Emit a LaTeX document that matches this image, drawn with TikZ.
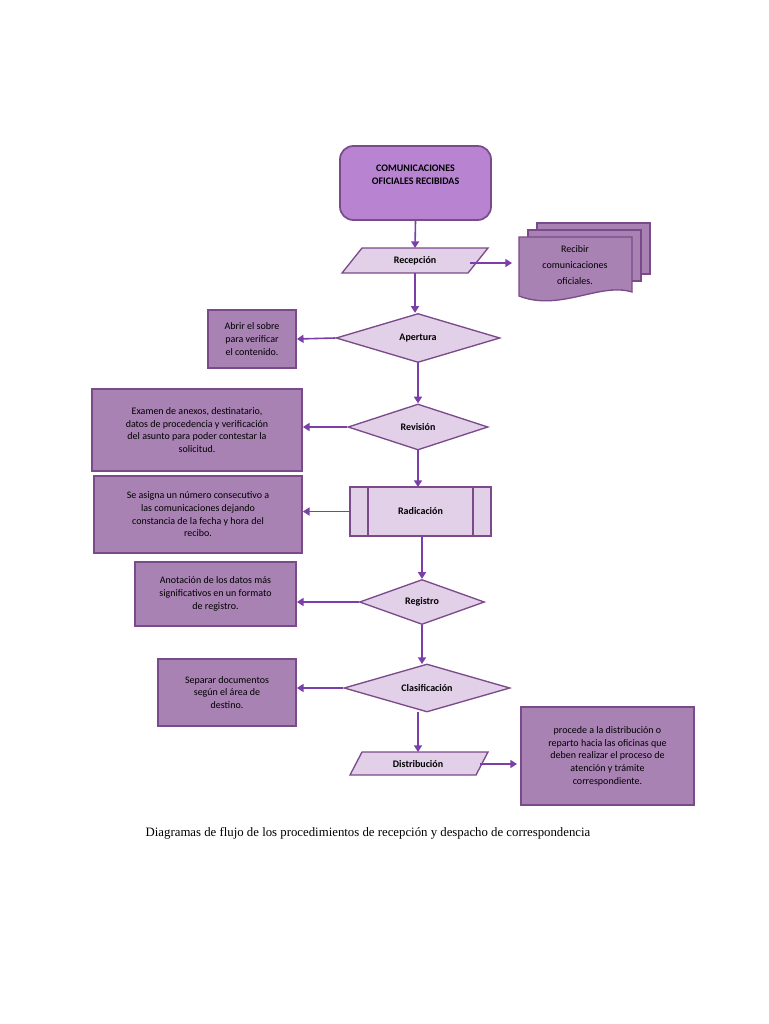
\documentclass[tikz,border=0pt]{standalone}
\usepackage{fontspec}
\setmainfont{Carlito}
\newfontfamily\capfont{Liberation Serif}
\usetikzlibrary{shapes.geometric,arrows.meta}
\definecolor{dark}{HTML}{7B4A8A}
\definecolor{arr}{HTML}{7A3FA8}
\definecolor{topf}{HTML}{B884D2}
\definecolor{sidef}{HTML}{A982B4}
\definecolor{lightf}{HTML}{E2CFE8}
\begin{document}
\begin{tikzpicture}[x=0.75pt,y=-0.75pt,
  side/.style={draw=dark,line width=1.3pt,fill=sidef,align=center,font=\fontsize{7.5}{9.5}\selectfont,inner sep=2pt},
  dia/.style={diamond,draw=dark,line width=1pt,fill=lightf,font=\bfseries\fontsize{7.5}{9}\selectfont,inner sep=0pt,aspect=3},
  lbl/.style={font=\bfseries\fontsize{7.5}{9}\selectfont,inner sep=0pt},
  ar/.style={draw=arr,line width=1.2pt,-{Triangle[length=5pt,width=6pt]}}]
\useasboundingbox (0,0) rectangle (768,1024);
% top
\node[draw=dark,line width=1.3pt,fill=topf,rounded corners=10pt,minimum width=151*0.75pt,minimum height=74*0.75pt,align=center,font=\bfseries\fontsize{7.5}{10}\selectfont,text depth=12pt] (top) at (415.5,183) {COMUNICACIONES\\OFICIALES RECIBIDAS};
% Recepcion parallelogram
\draw[draw=dark,line width=1pt,fill=lightf] (362,248) -- (488,248) -- (468,273) -- (342,273) -- cycle;
\node[lbl,minimum width=100*0.75pt,minimum height=25*0.75pt] (rec) at (415,261) {Recepción};
% document stack
\foreach \dx/\dy in {18/-14,9/-7}{
  \draw[draw=dark,line width=1pt,fill=sidef] (519+\dx,237+\dy) -- (632+\dx,237+\dy) -- (632+\dx,288+\dy) -- (519+\dx,288+\dy) -- cycle;}
\draw[draw=dark,line width=1pt,fill=sidef] (519,237) -- (632,237) -- (632,292) .. controls (600,282) and (560,312) .. (519,296) -- cycle;
\node[align=center,font=\fontsize{7.5}{12}\selectfont,minimum width=110*0.75pt] (doc) at (575,265) {Recibir\\comunicaciones\\oficiales.};
% Apertura
\node[dia,minimum width=164*0.75pt,minimum height=49*0.75pt] (ape) at (418,338) {Apertura};
\node[side,minimum width=88*0.75pt,minimum height=58*0.75pt] (abr) at (252,339) {Abrir el sobre\\para verificar\\el contenido.};
% Revision
\node[dia,minimum width=140*0.75pt,minimum height=46*0.75pt] (rev) at (418,427) {Revisión};
\node[side,minimum width=210*0.75pt,minimum height=82*0.75pt] (exa) at (197,430) {Examen de anexos, destinatario,\\datos de procedencia y verificación\\del asunto para poder contestar la\\solicitud.};
% Radicacion
\node[draw=dark,line width=1pt,fill=lightf,minimum width=141*0.75pt,minimum height=49*0.75pt,font=\bfseries\fontsize{7.5}{9}\selectfont] (rad) at (420.5,511.5) {Radicación};
\draw[draw=dark,line width=0.8pt] (368,487) -- (368,536) (473,487) -- (473,536);
\node[side,minimum width=208*0.75pt,minimum height=77*0.75pt] (ses) at (198,514.5) {Se asigna un número consecutivo a\\las comunicaciones dejando\\constancia de la fecha y hora del\\recibo.};
% Registro
\node[dia,minimum width=125*0.75pt,minimum height=45*0.75pt] (reg) at (422,602) {Registro};
\node[side,minimum width=161*0.75pt,minimum height=64*0.75pt] (ano) at (215.5,594) {Anotación de los datos más\\significativos en un formato\\de registro.};
% Clasificacion
\node[dia,minimum width=166*0.75pt,minimum height=48*0.75pt] (cla) at (427,688) {Clasificación};
\node[side,minimum width=138*0.75pt,minimum height=67*0.75pt] (sep) at (227,692.5) {Separar documentos\\según el área de\\destino.};
% Distribucion
\draw[draw=dark,line width=1pt,fill=lightf] (362,752) -- (488,752) -- (476,775) -- (350,775) -- cycle;
\node[lbl,minimum width=100*0.75pt,minimum height=23*0.75pt] (dis) at (418,764) {Distribución};
\node[side,minimum width=173*0.75pt,minimum height=98*0.75pt] (pro) at (607.5,756) {procede a la distribución o\\reparto hacia las oficinas que\\deben realizar el proceso de\\atención y trámite\\correspondiente.};
% connectors
\draw[ar] (top.south) -- (415,248);
\draw[ar] (415,273) -- (ape.north -| 415,0);
\draw[ar] (470,263) -- (512,263);
\draw[ar] (ape.west) -- (abr.east);
\draw[ar] (418,362) -- (rev.north);
\draw[ar] (rev.west) -- (rev.west -| exa.east);
\draw[ar] (418,450) -- (418,487);
\draw[ar] (rad.west) -- (rad.west -| ses.east);
\draw[ar] (422,536) -- (reg.north);
\draw[ar] (reg.west) -- (reg.west -| ano.east);
\draw[ar] (422,625) -- (422,664);
\draw[ar] (cla.west) -- (cla.west -| sep.east);
\draw[ar] (418,712) -- (418,752);
\draw[ar] (480,764) -- (517,764);
\node[font=\capfont\fontsize{9.6}{11}\selectfont] (cap) at (368,833) {Diagramas de flujo de los procedimientos de recepción y despacho de correspondencia};
\end{tikzpicture}
\end{document}
